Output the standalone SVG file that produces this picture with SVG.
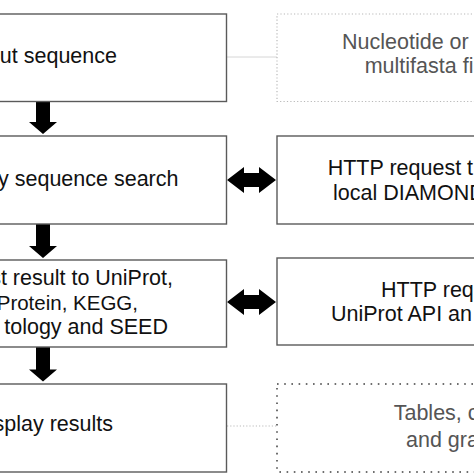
<svg xmlns="http://www.w3.org/2000/svg" width="474" height="474" viewBox="0 0 474 474">
<style>
.box{fill:#fff;stroke:#5a5a5a;stroke-width:1.4}
.dot1{fill:#fff;stroke:#b8b8b8;stroke-width:1.2;stroke-dasharray:1.2 2.2}
.dot2{fill:#fff;stroke:#6f6f6f;stroke-width:2;stroke-dasharray:1.6 5.6}
.t{font-family:"Liberation Sans",Arial,sans-serif;font-size:21.5px;fill:#111}
.g{fill:#555}
.e{text-anchor:end}
.arr{fill:#000}
</style>
<rect width="474" height="474" fill="#fff"/>
<g id="connectors">
<line x1="227" y1="57" x2="277" y2="57" stroke="#d6d6d6" stroke-width="1"/>
<line x1="227" y1="426" x2="277" y2="426" stroke="#bbb" stroke-width="1.2" stroke-dasharray="1.2 2"/>
<polygon class="arr" points="36,101.5 50,101.5 50,122 57,122 43,134 29,122 36,122"/>
<polygon class="arr" points="36,224 50,224 50,246 57,246 43,258 29,246 36,246"/>
<polygon class="arr" points="36,347 50,347 50,369.5 57,369.5 43,381.5 29,369.5 36,369.5"/>
<polygon class="arr" points="227,180 244,167 244,173 259,173 259,167 276,180 259,193 259,187 244,187 244,193"/>
<polygon class="arr" points="227,302 244,289 244,295 259,295 259,289 276,302 259,315 259,309 244,309 244,315"/>
</g>
<g id="input">
<rect class="box" x="-10" y="14" width="236.5" height="87.5"/>
<text class="t e" x="117" y="63">ut sequence</text>
</g>
<g id="search">
<rect class="box" x="-10" y="136" width="236.5" height="88"/>
<text class="t e" x="178.5" y="186">y sequence search</text>
</g>
<g id="map">
<rect class="box" x="-10" y="260" width="236.5" height="87"/>
<text class="t e" x="173" y="285">st result to UniProt,</text>
<text class="t e" x="138" y="309.5" style="font-size:20.5px">Protein, KEGG,</text>
<text class="t e" x="168" y="334">tology and SEED</text>
</g>
<g id="display">
<rect class="box" x="-10" y="384" width="236.5" height="88"/>
<text class="t e" x="113" y="431">splay results</text>
</g>
<g id="nucleotide">
<rect class="dot1" x="277" y="14" width="210" height="87.5"/>
<text class="t g" x="342" y="49">Nucleotide or</text>
<text class="t g" x="364.7" y="73">multifasta fi</text>
</g>
<g id="diamond">
<rect class="box" x="277" y="136" width="210" height="88"/>
<text class="t" x="327.7" y="175">HTTP request t</text>
<text class="t" x="333" y="200">local DIAMOND</text>
</g>
<g id="uniprot">
<rect class="box" x="277" y="258" width="210" height="87"/>
<text class="t" x="381" y="297">HTTP req</text>
<text class="t" x="331" y="321">UniProt API an</text>
</g>
<g id="tables">
<rect class="dot2" x="277" y="384" width="210" height="88"/>
<text class="t g" x="393.7" y="420">Tables, c</text>
<text class="t g" x="406" y="447">and gra</text>
</g>
</svg>
